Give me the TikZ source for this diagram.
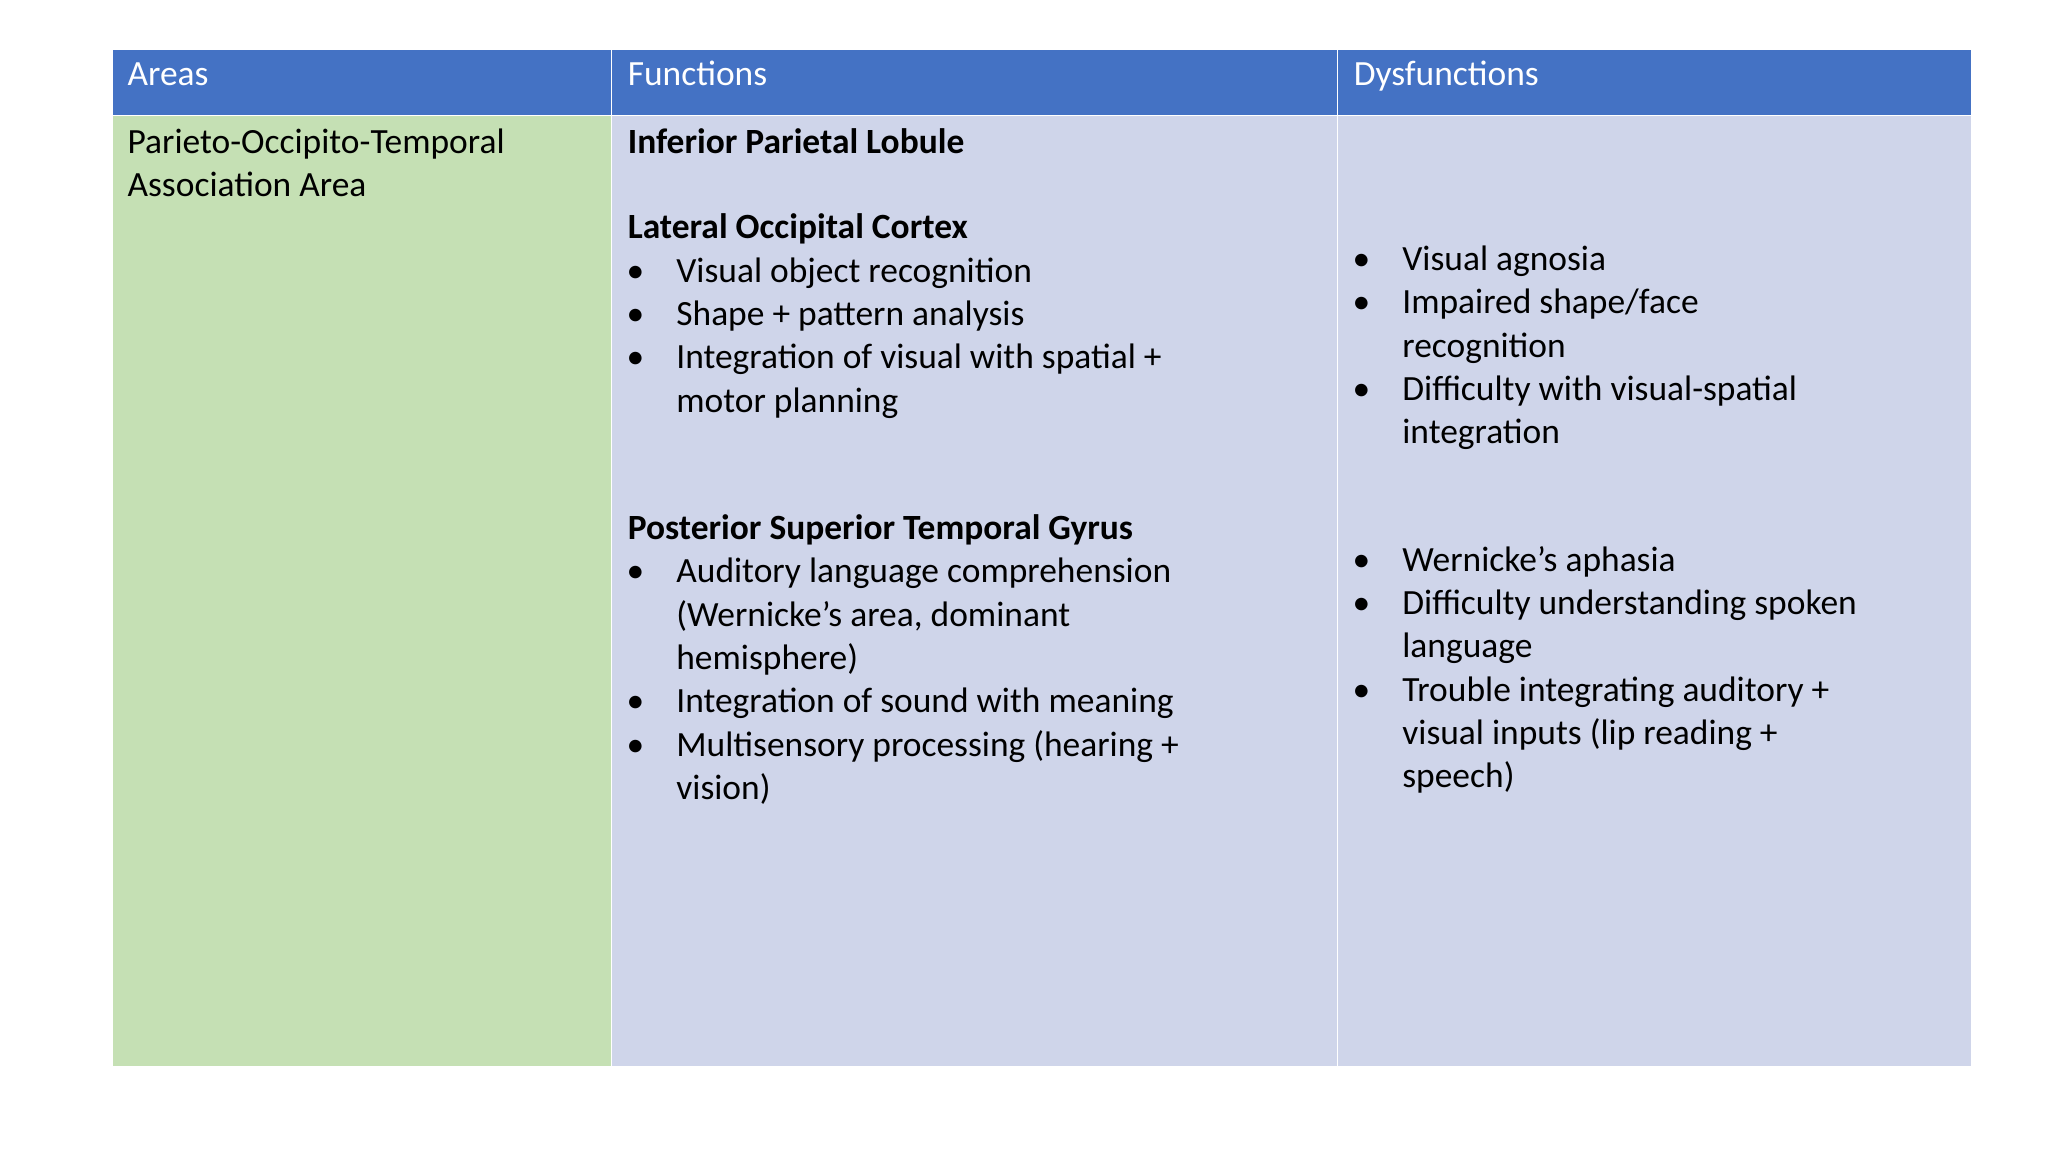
\documentclass[tikz,border=0pt]{standalone}
\usepackage{fontspec}
\setmainfont{Carlito}
\definecolor{hdr}{HTML}{4472C4}
\definecolor{grn}{HTML}{C5E0B4}
\definecolor{lav}{HTML}{CFD5EA}
\begin{document}
\begin{tikzpicture}[x=1pt,y=-1pt,
  txt/.style={anchor=base west,inner sep=0pt,font=\fontsize{27}{33}\selectfont},
  hd/.style={txt,text=white},
  bul/.style={anchor=base,inner sep=0pt,font=\fontsize{27}{33}\selectfont}]
\useasboundingbox (0,0) rectangle (1560,877.5);
\fill[white] (0,0) rectangle (1560,877.5);
\fill[hdr] (86,38) rectangle (1501,88);
\fill[grn] (86,88) rectangle (466,812);
\fill[lav] (466,88) rectangle (1501,812);
\draw[white,line width=1pt] (466,38) -- (466,812) (1019,38) -- (1019,812) (86,88) -- (1501,88);
\node[hd] (h1) at (97,65) {Areas};
\node[hd] (h2) at (478,65) {Functions};
\node[hd] (h3) at (1031,65) {Dysfunctions};
\node[txt] (a1) at (97,117) {Parieto-Occipito-Temporal};
\node[txt] (a2) at (97,150) {Association Area};
% functions
\node[txt,font=\fontsize{27}{33}\selectfont\bfseries] (f1) at (478,117) {Inferior Parietal Lobule};
\node[txt,font=\fontsize{27}{33}\selectfont\bfseries] (f2) at (478,182) {Lateral Occipital Cortex};
\foreach \y/\t/\b in {215/{Visual object recognition}/1, 248/{Shape + pattern analysis}/1, 281/{Integration of visual with spatial +}/1, 314/{motor planning}/0,
 444/{Auditory language comprehension}/1, 477/{(Wernicke’s area, dominant}/0, 510/{hemisphere)}/0, 543/{Integration of sound with meaning}/1, 576/{Multisensory processing (hearing +}/1, 609/{vision)}/0}{
  \node[txt] at (515,\y) {\t};
  \ifnum\b=1 \node[bul] at (484,\y) {•};\fi
}
\node[txt,font=\fontsize{27}{33}\selectfont\bfseries] (f3) at (478,411) {Posterior Superior Temporal Gyrus};
% dysfunctions
\foreach \y/\t/\b in {206/{Visual agnosia}/1, 239/{Impaired shape/face}/1, 272/{recognition}/0, 305/{Difficulty with visual-spatial}/1, 338/{integration}/0,
 435/{Wernicke’s aphasia}/1, 468/{Difficulty understanding spoken}/1, 501/{language}/0, 534/{Trouble integrating auditory +}/1, 567/{visual inputs (lip reading +}/0, 600/{speech)}/0}{
  \node[txt] at (1068,\y) {\t};
  \ifnum\b=1 \node[bul] at (1037,\y) {•};\fi
}
\end{tikzpicture}
\end{document}
